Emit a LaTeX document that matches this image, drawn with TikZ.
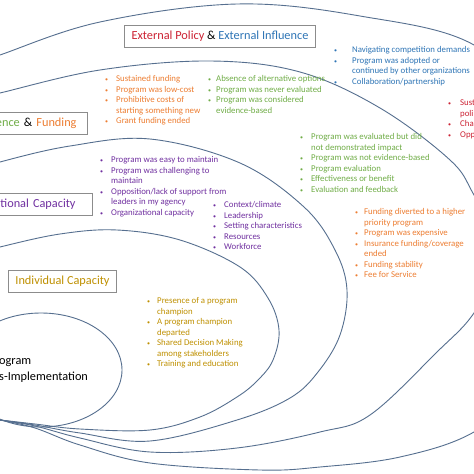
\documentclass[tikz,border=0pt]{standalone}
\usepackage{fontspec}
\setmainfont{Carlito}
\usepackage{xcolor}
\usepackage{tikz}
\usetikzlibrary{positioning}
\definecolor{ring}{HTML}{566F8F}
\definecolor{frame}{HTML}{8C8C8C}
\definecolor{policy}{HTML}{CC2233}
\definecolor{influence}{HTML}{2E75B6}
\definecolor{evidence}{HTML}{70AD47}
\definecolor{funding}{HTML}{ED7D31}
\definecolor{orgcap}{HTML}{7030A0}
\definecolor{indcap}{HTML}{BF9000}
\newcommand{\blist}[2][11pt]{\begin{tabular}[t]{@{}p{#1}@{}l@{}}#2\end{tabular}}
\newcommand{\bu}{{\fontsize{6}{6}\selectfont\textbullet}}

\begin{document}
\begin{tikzpicture}[x=1pt,y=-1pt,
  layer/.style={draw=ring,line width=0.9pt},
  lbl/.style={draw=frame,line width=0.9pt,minimum height=22pt,inner ysep=0pt,
              fill=white,font=\fontsize{12.3}{14}\selectfont},
  cutlbl/.style={lbl,anchor=east,text width=120pt,align=right},
  items/.style={anchor=base west,inner sep=0pt,
                font=\fontsize{8.8}{10.5}\selectfont}
]
\useasboundingbox (0,0) rectangle (474,474);
\fill[white] (0,0) rectangle (474,474);
\clip (0,0) rectangle (474,474);

% nested layers, all meeting at the left
\draw[layer] plot[smooth,tension=0.6] coordinates {(-40,70) (0,55) (100,22)
  (237,4) (360,16) (474,45) (545,120) (570,260) (535,380) (474,432) (400,457)
  (320,467) (260,470) (150,463) (80,445) (35,428) (0,420) (-20,416)};
\draw[layer] plot[smooth,tension=0.6] coordinates {(-40,103) (0,93) (100,70)
  (210,61) (300,72) (380,108) (450,160) (474,195) (505,255) (474,313)
  (437,352) (370,415) (320,432) (237,448) (150,452) (80,438) (35,426)
  (0,420) (-20,417)};
\draw[layer] plot[smooth,tension=0.6] coordinates {(-40,175) (0,162) (70,146)
  (150,139) (240,163) (304,207) (335,250) (347,290) (340,335) (318,372)
  (290,398) (237,420) (150,441) (80,433) (35,425) (0,420) (-20,417)};
\draw[layer] plot[smooth,tension=0.6] coordinates {(-40,258) (0,247) (60,234)
  (117,230) (180,240) (240,267) (268,298) (279,330) (273,360) (258,380)
  (237,397) (200,417) (150,430) (80,429) (35,424) (0,420) (-20,418)};
\draw[layer] (41,370) ellipse [x radius=81pt,y radius=57pt];

\node[lbl,inner xsep=7.5pt] (ext) at (220,36.5)
  {\textcolor{policy}{External Policy} \& \textcolor{influence}{External Influence}};
\node[cutlbl,inner xsep=11pt] (evf) at (88,123)
  {\textcolor{evidence}{ence} \& \textcolor{funding}{Funding}};
\node[cutlbl,inner xsep=17pt] (org) at (93,204.5)
  {\textcolor{orgcap}{tional Capacity}};
\node[lbl,inner xsep=7pt,text=indcap] (ind) at (62.5,281) {Individual Capacity};

\node[anchor=base west,inner sep=0pt,font=\fontsize{12.3}{14}\selectfont]
  (prog) at (-1,364) {ogram};
\node[anchor=base west,inner sep=0pt,font=\fontsize{12.3}{14}\selectfont]
  (post) at (-1,380) {s-Implementation};

\node[items,text=influence] (infl) at (334,52.5) {\blist[18pt]{
  \bu & Navigating competition demands\\
  \bu & Program was adopted or\\
      & continued by other organizations\\
  \bu & Collaboration/partnership}};
\node[items,text=policy] (pol) at (448,105.5) {\blist[12pt]{
  \bu & Sust\\ & poli\\ \bu & Cha\\ \bu & Opp}};
\node[items,text=funding] (fund1) at (105,81.5) {\blist{
  \bu & Sustained funding\\
  \bu & Program was low-cost\\
  \bu & Prohibitive costs of\\
      & starting something new\\
  \bu & Grant funding ended}};
\node[items,text=evidence] (evid1) at (208,81.5) {\blist[8pt]{
  \bu & Absence of alternative options\\
  \bu & Program was never evaluated\\
  \bu & Program was considered\\
      & evidence-based}};
\node[items,text=evidence] (evid2) at (300,139.5) {\blist{
  \bu & Program was evaluated but did\\
      & not demonstrated impact\\
  \bu & Program was not evidence-based\\
  \bu & Program evaluation\\
  \bu & Effectiveness or benefit\\
  \bu & Evaluation and feedback}};
\node[items,text=funding] (fund2) at (355,214.5) {\blist[9pt]{
  \bu & Funding diverted to a higher\\
      & priority program\\
  \bu & Program was expensive\\
  \bu & Insurance funding/coverage\\
      & ended\\
  \bu & Funding stability\\
  \bu & Fee for Service}};
\node[items,text=orgcap] (org1) at (100,162.5) {\blist{
  \bu & Program was easy to maintain\\
  \bu & Program was challenging to\\
      & maintain\\
  \bu & Opposition/lack of support from\\
      & leaders in my agency\\
  \bu & Organizational capacity}};
\node[items,text=orgcap] (org2) at (213,207.5) {\blist{
  \bu & Context/climate\\
  \bu & Leadership\\
  \bu & Setting characteristics\\
  \bu & Resources\\
  \bu & Workforce}};
\node[items,text=indcap] (ind1) at (147,303.5) {\blist[10pt]{
  \bu & Presence of a program\\
      & champion\\
  \bu & A program champion\\
      & departed\\
  \bu & Shared Decision Making\\
      & among stakeholders\\
  \bu & Training and education}};
\end{tikzpicture}
\end{document}
